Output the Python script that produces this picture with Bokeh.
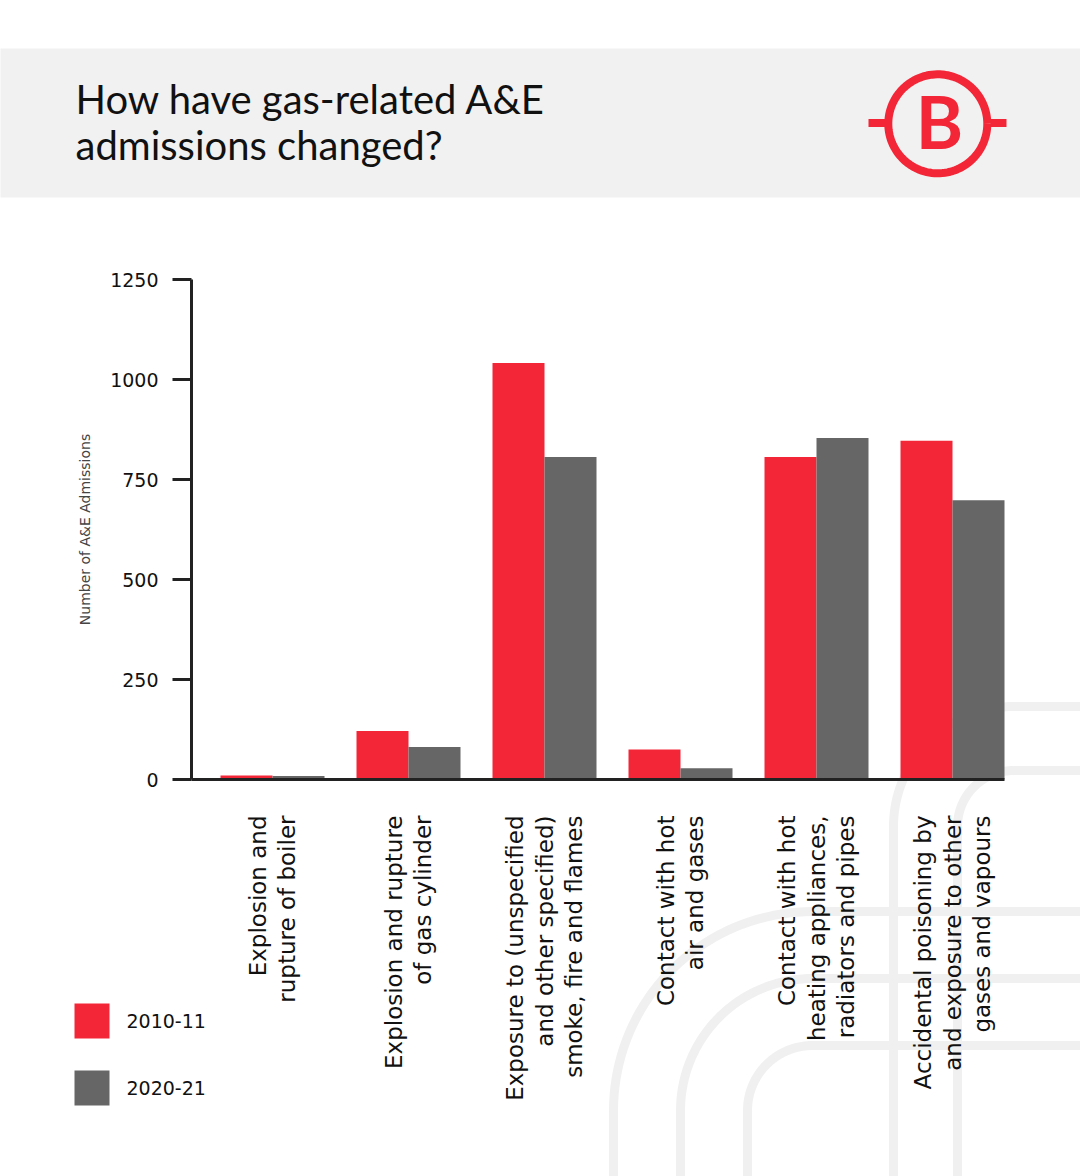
import numpy as np
from bokeh.plotting import figure
from bokeh.models import Range1d, FixedTicker, ColumnDataSource
from bokeh.transform import dodge
from bokeh.core.properties import value
from bokeh.embed import file_html
from bokeh.resources import INLINE

# ---------------- data ----------------
categories = [
    "Explosion and\nrupture of boiler",
    "Explosion and rupture\nof gas cylinder",
    "Exposure to (unspecified\nand other specified)\nsmoke, fire and flames",
    "Contact with hot\nair and gases",
    "Contact with hot\nheating appliances,\nradiators and pipes",
    "Accidental poisoning by\nand exposure to other\ngases and vapours",
]
series_names = ["2010-11", "2020-21"]
values_2010 = [10, 121, 1041, 75, 806, 847]
values_2020 = [9, 81, 806, 28, 854, 698]
y_ticks = [0, 250, 500, 750, 1000, 1250]

title_lines = ["How have gas-related A&E", "admissions changed?"]
y_label = "Number of A&E Admissions"

RED = "#f32637"
GREY = "#666666"
DECO = "#f0f0f0"
TITLE_FONT = "Lato"
FONT = "DejaVu Sans"

# ---------------- figure ----------------
W, H = 1080, 1176
FL, FR, FT, FB = 191, 1004, 279, 779   # frame edges in page pixels
GROUP_W = 136                           # px between group centres
X0 = 272                                # centre of first group

p = figure(
    width=W, height=H,
    x_range=Range1d(-(X0 - FL) / GROUP_W, (FR - X0) / GROUP_W),
    y_range=Range1d(0, 1250),
    output_backend="svg", toolbar_location=None,
    min_border_left=FL, min_border_right=W - FR,
    min_border_top=FT, min_border_bottom=H - FB,
    background_fill_color="white", border_fill_color="white",
)
p.outline_line_color = None
p.xgrid.visible = False
p.ygrid.visible = False

# page-pixel coordinate system for decorations (data value == screen px)
p.extra_x_ranges = {"px": Range1d(FL, FR)}
p.extra_y_ranges = {"px": Range1d(FB, FT)}
PX = dict(x_range_name="px", y_range_name="px")

def deco(r):
    r.level = "guide"
    return r

# header band
deco(p.quad(left=[0], right=[W], top=[48], bottom=[197], fill_color="#f1f1f1",
            line_color=None, **PX))

# background rounded track lines
def corner(cx, cy, r):
    t = np.linspace(np.pi / 2, np.pi, 40)
    xs = [W] + list(cx + r * np.cos(t)) + [cx - r]
    ys = [cy - r] + list(cy - r * np.sin(t)) + [H]
    return xs, ys

xs_all, ys_all = [], []
for cx, cy, r in [(1013, 826, 120), (1013, 826, 56),
                  (812, 1110, 199), (812, 1110, 132), (812, 1110, 65)]:
    xs, ys = corner(cx, cy, r)
    xs_all.append(xs)
    ys_all.append(ys)
deco(p.multi_line(xs_all, ys_all, line_color=DECO, line_width=9, **PX))

# title
deco(p.text(x=[75, 75], y=[98, 144], text=title_lines, text_font=value(TITLE_FONT),
            text_font_size="40px", text_color="#111111", text_baseline="alphabetic",
            text_align="left", **PX))

# logo
t = np.linspace(0, 2 * np.pi, 120)
deco(p.multi_line([list(937.3 + 49.5 * np.cos(t))], [list(123.3 + 49.5 * np.sin(t))],
                  line_color=RED, line_width=8, **PX))
deco(p.multi_line([[868, 885], [990, 1006]], [[122.5, 122.5], [122.5, 122.5]],
                  line_color=RED, line_width=8, line_cap="butt", **PX))
deco(p.text(x=[939], y=[120], text=["B"], text_font=value(TITLE_FONT), text_font_style="bold",
            text_font_size="72px", text_color=RED, text_align="center",
            text_baseline="alphabetic", **PX))

# ---------------- bars ----------------
src = ColumnDataSource(dict(idx=list(range(len(categories))), v1=values_2010, v2=values_2020))
bw = 52 / GROUP_W
r1 = p.vbar(x=dodge("idx", -bw / 2), top="v1", width=bw, bottom=0, source=src,
            fill_color=RED, line_color=None)
r2 = p.vbar(x=dodge("idx", bw / 2), top="v2", width=bw, bottom=0, source=src,
            fill_color=GREY, line_color=None)
r1.level = "guide"
r2.level = "guide"

# ---------------- legend (drawn in page space) ----------------
leg_y = [1020.5, 1087.5]
deco(p.multi_line([[74, 109], [74, 109]], [[leg_y[0]] * 2, [leg_y[1]] * 2],
                  line_color=[RED, GREY], line_width=35, line_cap="butt", **PX))
deco(p.text(x=[126, 126], y=leg_y, text=series_names, text_font=value(FONT),
            text_font_size="19px", text_color="#111111", text_baseline="middle",
            text_align="left", **PX))

# ---------------- axes ----------------
xa = p.xaxis[0]
xa.ticker = FixedTicker(ticks=list(range(len(categories))))
xa.major_label_overrides = {i: c for i, c in enumerate(categories)}
xa.major_label_orientation = np.pi / 2
xa.major_label_text_font = FONT
xa.major_label_text_font_size = "23px"
xa.major_label_text_color = "#111111"
xa.major_label_text_line_height = 1.12
xa.major_label_standoff = 30
xa.major_tick_line_color = None
xa.minor_tick_line_color = None
xa.axis_line_color = "#222222"
xa.axis_line_width = 3

ya = p.yaxis[0]
ya.ticker = FixedTicker(ticks=y_ticks)
ya.major_label_text_font = FONT
ya.major_label_text_font_size = "19px"
ya.major_label_text_color = "#111111"
ya.major_tick_out = 19
ya.major_tick_in = 0
ya.major_tick_line_width = 3
ya.major_tick_line_color = "#222222"
ya.minor_tick_line_color = None
ya.major_label_standoff = 14
ya.axis_line_color = "#222222"
ya.axis_line_width = 3
ya.axis_label = y_label
ya.axis_label_text_font = FONT
ya.axis_label_text_font_size = "14px"
ya.axis_label_text_font_style = "normal"
ya.axis_label_text_color = "#444444"
ya.axis_label_standoff = 14

open("out.html", "w").write(file_html(p, INLINE))
